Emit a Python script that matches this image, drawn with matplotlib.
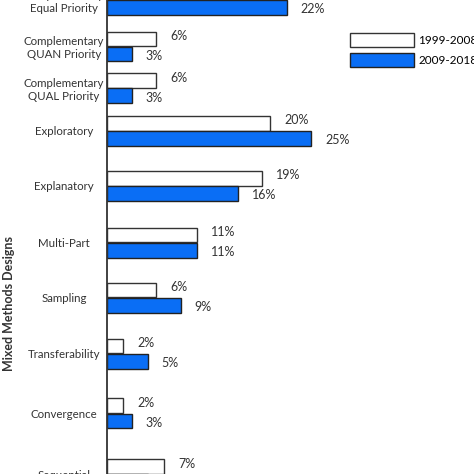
import matplotlib
matplotlib.use("Agg")
import matplotlib.pyplot as plt
from matplotlib.patches import Patch

plt.rcParams['font.family'] = ['Lato', 'DejaVu Sans']

categories = ["Complementary\nEqual Priority", "Complementary\nQUAN Priority", "Complementary\nQUAL Priority",
              "Exploratory", "Explanatory", "Multi-Part", "Sampling", "Transferability",
              "Convergence", "Sequential"]
v1999 = [18, 6, 6, 20, 19, 11, 6, 2, 2, 7]
v2009 = [22, 3, 3, 25, 16, 11, 9, 5, 3, 5]
# layout: group centre positions (pixel rows)
ypos = [-16, 33, 77, 122, 180, 240, 298, 357, 420, 484]

fig = plt.figure(figsize=(4.74, 4.74), dpi=100)
ax = fig.add_axes([107/474, 0, 1 - 107/474, 1])
ax.set_xlim(0, 44.9)
ax.set_ylim(474, 0)
h = 15.5
blue = "#0A6EF5"
for y, a, b in zip(ypos, v1999, v2009):
    ax.barh(y - 8, a, height=h, color="white", edgecolor="#333333", linewidth=1)
    ax.barh(y + 8, b, height=h, color=blue, edgecolor="#222222", linewidth=1)
    ax.annotate(f"{a}%", (a, y - 11), xytext=(10, 0), textcoords="offset points",
                va="center", fontsize=9, color="#333333")
    ax.annotate(f"{b}%", (b, y + 10), xytext=(10, 0), textcoords="offset points",
                va="center", fontsize=9, color="#333333")
ax.set_yticks(ypos)
ax.set_yticklabels(categories, fontsize=8.3, color="#333333", ha="center")
ax.tick_params(axis="y", length=0, pad=31)
ax.set_xticks([])
for s in ["top", "right", "bottom"]:
    ax.spines[s].set_visible(False)
ax.spines["left"].set_linewidth(1.3)
ax.spines["left"].set_color("#333333")
fig.text(0.02, 0.36, "Mixed Methods Designs", rotation=90, fontsize=9,
         fontweight="bold", va="center", ha="center", color="#333333")

handles = [Patch(facecolor="white", edgecolor="#333333"), Patch(facecolor=blue, edgecolor="#222222")]
fig.legend(handles, ["1999-2008", "2009-2018"], loc="upper left",
           bbox_to_anchor=(350/474, 1 - 33/474), frameon=False, fontsize=8.5,
           handlelength=5.4, handleheight=1.45, handletextpad=0.4, labelspacing=0.5,
           borderaxespad=0, borderpad=0)
fig.savefig("out.png", dpi=100)
